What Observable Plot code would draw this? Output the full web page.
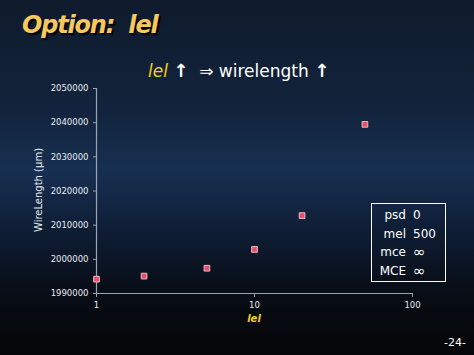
<!DOCTYPE html>
<html>
<head>
<meta charset="utf-8">
<script src="https://cdn.jsdelivr.net/npm/d3@7"></script>
<script src="https://cdn.jsdelivr.net/npm/@observablehq/plot@0.6"></script>
<style>
  html, body { margin: 0; padding: 0; }
  body {
    width: 474px; height: 355px; overflow: hidden; position: relative;
    background: linear-gradient(to bottom, #0f1b2c 0%, #12233b 30%, #173052 48%, #10203a 62%, #080d16 82%, #040507 100%);
    font-family: "DejaVu Sans", Verdana, sans-serif;
  }
  #title {
    position: absolute; left: 22px; top: 11px;
    font: italic bold 24px "DejaVu Sans", Verdana, sans-serif;
    color: #f6c85e; text-shadow: 2px 2px 1px #000; white-space: pre; letter-spacing: -1.2px;
  }
  #subtitle {
    position: absolute; left: 148px; top: 60px;
    font: 17px "DejaVu Sans", Verdana, sans-serif; color: #ffffff; white-space: pre;
  }
  #subtitle .lel { color: #f2cf1d; font-style: italic; }
  #subtitle b { font-size: 18px; }
  #chart { position: absolute; left: 0; top: 0; }
  #ylabel {
    position: absolute; left: 38px; top: 190px;
    transform: translate(-50%, -50%) rotate(-90deg);
    font: 10px "DejaVu Sans", Verdana, sans-serif; color: #e8ecf2; white-space: nowrap;
  }
  #xlabel {
    position: absolute; left: 254px; top: 313px; transform: translateX(-50%);
    font: italic bold 10px "DejaVu Sans", Verdana, sans-serif; color: #f2cf1d;
  }
  #legend {
    position: absolute; left: 371px; top: 203px; width: 75px; height: 79px;
    border: 1.5px solid #ffffff; box-sizing: border-box;
    font: 12px "DejaVu Sans", Verdana, sans-serif; color: #ffffff;
  }
  #legend table { border-collapse: collapse; margin-top: 2px; }
  #legend td { padding: 0; height: 18.5px; line-height: 18.5px; }
  #legend td.k { text-align: right; width: 34px; padding-right: 7px; }
  #legend td.inf { font-size: 15px; }
  #page {
    position: absolute; right: 8px; top: 336px;
    font: 11px "DejaVu Sans", Verdana, sans-serif; color: #ffffff;
  }
</style>
</head>
<body>
<div id="title">Option:  lel</div>
<div id="subtitle"><span class="lel">lel</span> <b>↑</b>  ⇒ wirelength <b>↑</b></div>
<div id="chart"></div>
<div id="ylabel">WireLength (µm)</div>
<div id="xlabel">lel</div>
<div id="legend"></div>
<div id="page">-24-</div>
<script>
const lel = [1, 2, 5, 10, 20, 50];
const wirelength = [1994200, 1995100, 1997400, 2002900, 2012800, 2039500];
const xTicks = [1, 10, 100];
const yTicks = [1990000, 2000000, 2010000, 2020000, 2030000, 2040000, 2050000];
const legendKeys = ["psd", "mel", "mce", "MCE"];
const legendValues = ["0", "500", "∞", "∞"];

const data = lel.map((x, i) => ({x, y: wirelength[i]}));

const plot = Plot.plot({
  width: 474,
  height: 355,
  marginLeft: 96,
  marginRight: 62,
  marginTop: 88,
  marginBottom: 62,
  style: {background: "transparent", color: "#e8ecf2", fontFamily: "DejaVu Sans, Verdana, sans-serif", fontSize: "8.5px"},
  x: {type: "log", domain: [1, 100], ticks: xTicks, tickFormat: d => String(d), label: null},
  y: {domain: [1990000, 2050000], ticks: yTicks, tickFormat: d => String(d), label: null},
  marks: [
    Plot.axisX({ticks: xTicks, tickFormat: d => String(d), tickSize: 4, tickPadding: 4, stroke: "#9aa3b3", fill: "#e8ecf2", label: null}),
    Plot.axisY({ticks: yTicks, tickFormat: d => String(d), tickSize: 3, tickPadding: 5, stroke: "#9aa3b3", fill: "#e8ecf2", label: null}),
    Plot.ruleY([1990000], {stroke: "#9aa3b3", strokeWidth: 1.2}),
    Plot.ruleX([1], {stroke: "#9aa3b3", strokeWidth: 1.2}),
    Plot.dot(data, {x: "x", y: "y", symbol: "square", r: 3.2, fill: "#e2506c", stroke: "#f3b9c2", strokeWidth: 1})
  ]
});
document.getElementById("chart").appendChild(plot);

const rows = legendKeys.map((k, i) => {
  const v = legendValues[i];
  return `<tr><td class="k">${k}</td><td class="${v === "∞" ? "inf" : ""}">${v}</td></tr>`;
}).join("");
document.getElementById("legend").innerHTML = `<table>${rows}</table>`;
</script>
</body>
</html>
